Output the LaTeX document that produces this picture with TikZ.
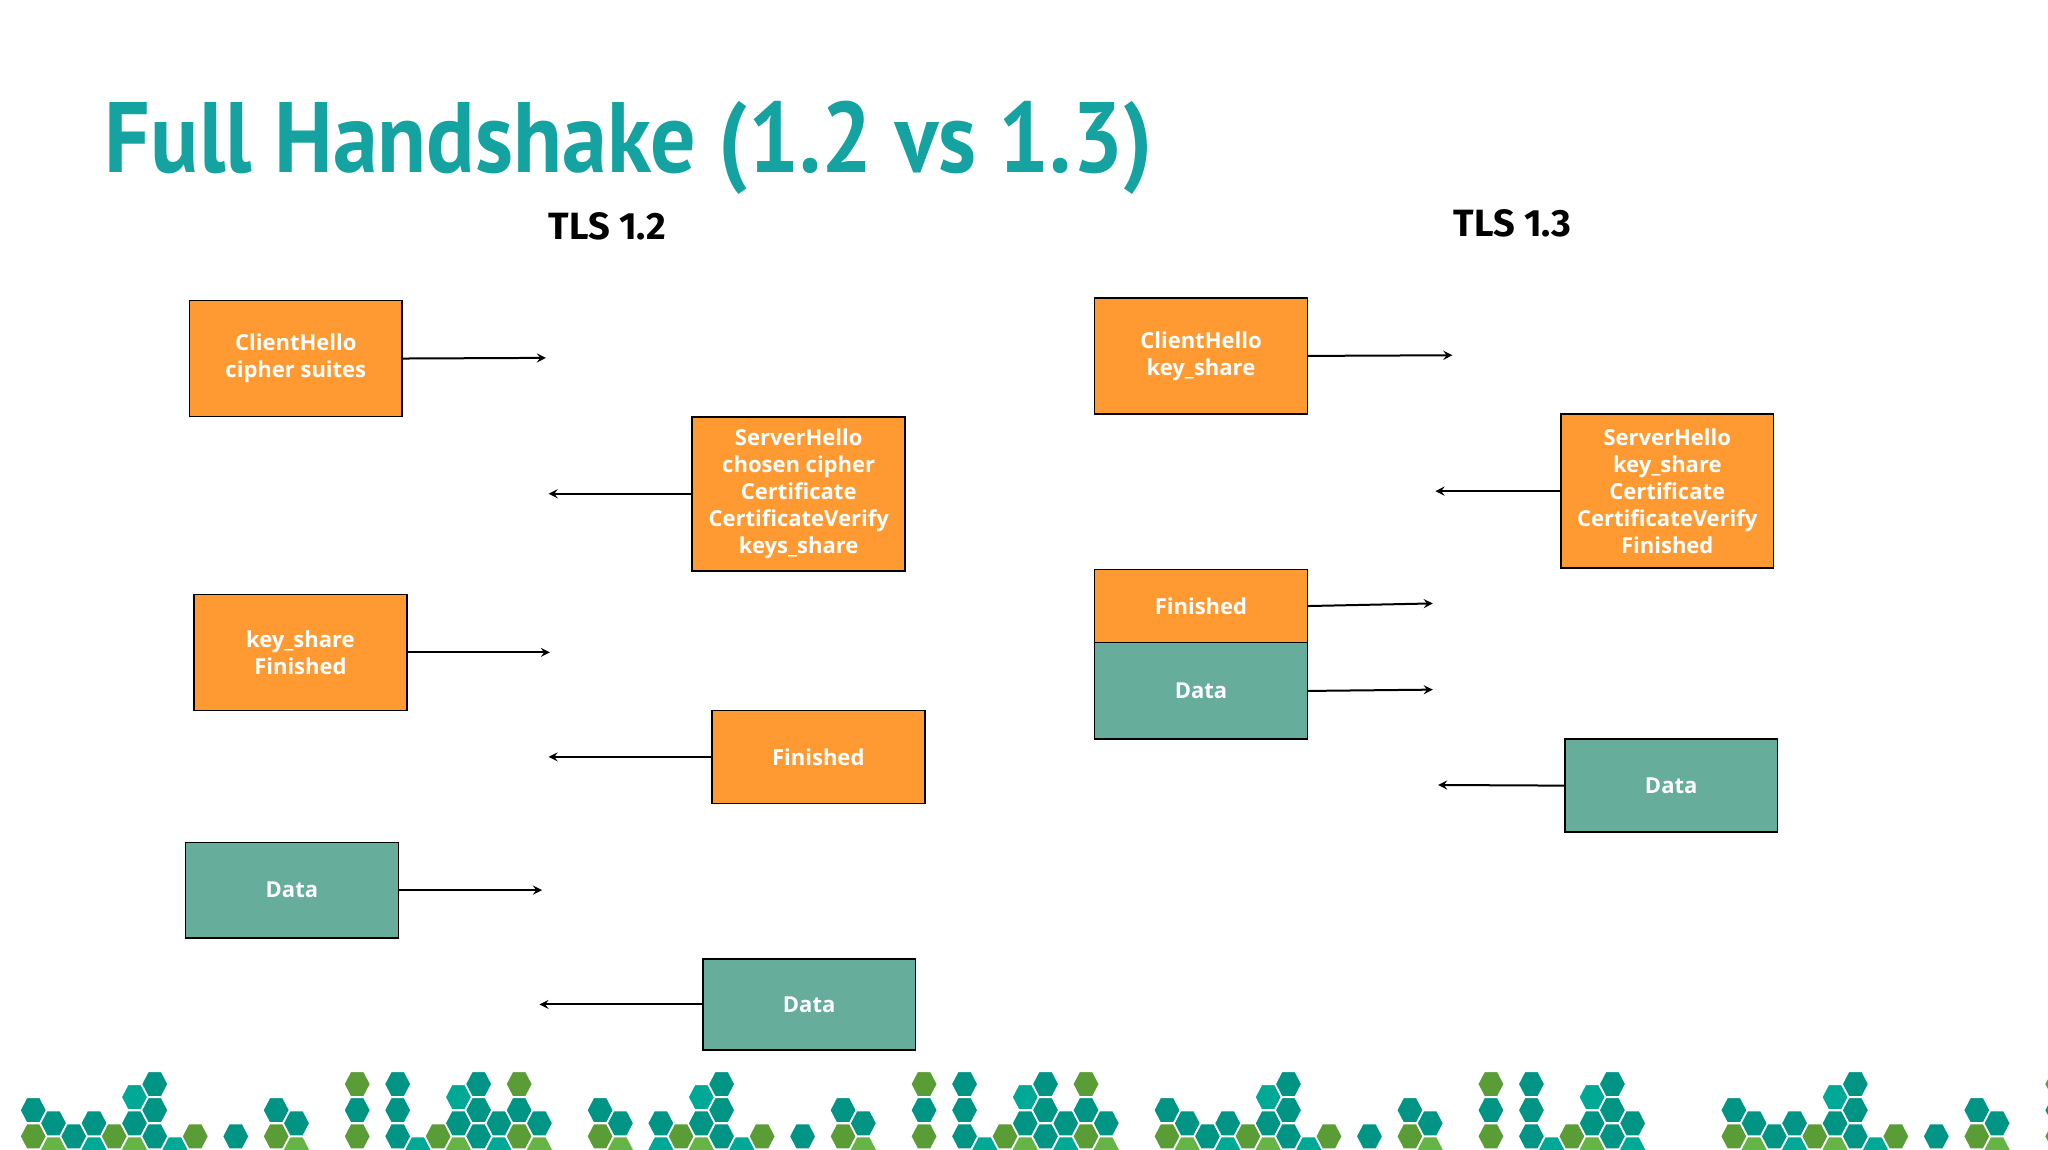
\documentclass[tikz,border=0pt]{standalone}
\usepackage{fontspec}
\setmainfont{Fira Sans}
\newfontfamily\titlefont{PT Sans}
\newfontfamily\boxfont{Open Sans}
\definecolor{orng}{HTML}{FF9A33}
\definecolor{tealbox}{HTML}{67AD9C}
\definecolor{titlec}{HTML}{14A3A0}
\definecolor{hA}{HTML}{00A896}
\definecolor{hB}{HTML}{009484}
\definecolor{hC}{HTML}{66B445}
\definecolor{hD}{HTML}{5A9C36}
\begin{document}
\begin{tikzpicture}[x=0.653pt,y=-0.653pt,
  msg/.style={draw=black,line width=0.8pt,minimum width=106.4pt,align=center,text=white,font=\boxfont\fontsize{11}{13.5}\selectfont\bfseries,inner sep=0pt},
  ob/.style={msg,fill=orng},
  tb/.style={msg,fill=tealbox},
  arr/.style={-stealth,line width=1pt}]
\useasboundingbox (0,0) rectangle (1568,880);
\node[anchor=base west,text=titlec,font=\titlefont\fontsize{50}{50}\selectfont\bfseries,inner sep=0pt,xscale=0.9,transform shape] (title) at (80,132) {Full Handshake (1.2 vs 1.3)};
\node[font=\fontsize{19}{20}\selectfont\bfseries] (h12) at (465,173) {TLS 1.2};
\node[font=\fontsize{19}{20}\selectfont\bfseries] (h13) at (1158,171) {TLS 1.3};
% TLS 1.2
\node[ob,minimum height=58pt] (a1) at (226.5,274.5) {ClientHello\\cipher suites};
\coordinate (a1e) at (418,274);
\draw[arr] (a1.east) -- (a1e);
\node[ob,minimum height=77pt] (a2) at (611.5,378) {ServerHello\\chosen cipher\\Certificate\\CertificateVerify\\keys\_share};
\coordinate (a2e) at (420,378);
\draw[arr] (a2.west) -- (a2e);
\node[ob,minimum height=58pt] (a3) at (230,499.5) {key\_share\\Finished};
\coordinate (a3e) at (421,499.5);
\draw[arr] (a3.east) -- (a3e);
\node[ob,minimum height=46.4pt] (a4) at (626.5,579.5) {Finished};
\coordinate (a4e) at (420,579.5);
\draw[arr] (a4.west) -- (a4e);
\node[tb,minimum height=47.7pt] (a5) at (223.5,681.5) {Data};
\coordinate (a5e) at (415,681.5);
\draw[arr] (a5.east) -- (a5e);
\node[tb,minimum height=45.7pt] (a6) at (619.5,769) {Data};
\coordinate (a6e) at (413,769);
\draw[arr] (a6.west) -- (a6e);
% TLS 1.3
\node[ob,minimum height=58pt] (b1) at (919.5,272.5) {ClientHello\\key\_share};
\coordinate (b1e) at (1112,272);
\draw[arr] (b1.east) -- (b1e);
\node[ob,minimum height=77pt] (b2) at (1276.5,376) {ServerHello\\key\_share\\Certificate\\CertificateVerify\\Finished};
\coordinate (b2e) at (1099,376);
\draw[arr] (b2.west) -- (b2e);
\node[ob,minimum height=36.6pt] (b3) at (919.5,464) {Finished};
\coordinate (b3e) at (1097,462);
\draw[arr] (b3.east) -- (b3e);
\node[tb,minimum height=48.3pt] (b4) at (919.5,529) {Data};
\coordinate (b4e) at (1097,528);
\draw[arr] (b4.east) -- (b4e);
\node[tb,minimum height=46.4pt] (b5) at (1279.5,601.5) {Data};
\coordinate (b5e) at (1101,601);
\draw[arr] (b5.west) -- (b5e);
% hexagon band
\foreach \i in {0,...,101}{
  \pgfmathsetmacro\xx{10+15.5*\i}
  \pgfmathtruncatemacro\od{mod(\i,2)}
  \pgfmathtruncatemacro\hh{mod(\i*5+mod(\i*\i,7),4)-1}
  \pgfmathtruncatemacro\gap{(\xx>480)*(\xx<505)+(\xx>1255)*(\xx<1285)+(\hh<0)}
  \ifnum\gap=0
  \foreach \k in {0,...,\hh}{
    \pgfmathsetmacro\yy{880-20*\k-10*\od}
    \pgfmathtruncatemacro\cc{mod(\i*3+\k*5+\i*\k,4)}
    \ifcase\cc \def\hc{hA}\or \def\hc{hB}\or \def\hc{hC}\else \def\hc{hD}\fi
    \fill[\hc,draw=white,line width=0.8pt] (\xx-10.3,\yy) -- (\xx-5.2,\yy-9.8) -- (\xx+5.2,\yy-9.8) -- (\xx+10.3,\yy) -- (\xx+5.2,\yy+9.8) -- (\xx-5.2,\yy+9.8) -- cycle;
  }
  \fi
}
\end{tikzpicture}
\end{document}
